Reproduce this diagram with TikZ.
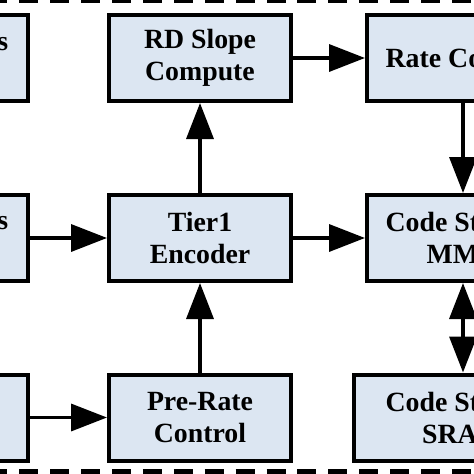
\documentclass[tikz,border=0pt]{standalone}
\usepackage{fontspec}
\setmainfont{Liberation Serif}
\usetikzlibrary{arrows.meta}
\definecolor{boxfill}{RGB}{220,230,242}
\begin{document}
\begin{tikzpicture}[x=1pt,y=-1pt,
  txt/.style={font=\fontsize{27.8}{32}\selectfont\bfseries},
  blk/.style={draw=black, line width=4pt, fill=boxfill, minimum height=86pt,
    inner sep=0pt, align=center, txt},
  arr/.style={line width=3.5pt, -{Triangle[length=36pt,width=27pt]}},
  darr/.style={line width=3.5pt,
    {Triangle[length=36pt,width=27pt]}-{Triangle[length=36pt,width=27pt]}},
  border/.style={line width=6pt, dash pattern=on 19pt off 11.9pt}]
\useasboundingbox (0,0) rectangle (474,474);
\clip (0,0) rectangle (474,474);
% left column (mostly outside the view)
\node[blk, minimum width=182pt] (lt) at (-63,58) {};
\node[blk, minimum width=182pt] (lm) at (-63,238) {};
\node[blk, minimum width=182pt] (lb) at (-63,417.5) {};
\node[txt, anchor=base east, inner sep=0pt] (ltx) at (8.5,50) {s};
\node[txt, anchor=base east, inner sep=0pt] (lmx) at (8.5,229) {s};
% middle column
\node[blk, minimum width=182pt] (rd) at (200,58) {RD Slope\\Compute};
\node[blk, minimum width=182pt] (t1) at (200,238) {Tier1\\Encoder};
\node[blk, minimum width=182pt] (pr) at (200,417.5) {Pre-Rate\\Control};
% right column
\node[blk, minimum width=192pt] (rc) at (463,58) {Rate Control};
\node[blk, minimum width=192pt] (mmu) at (463,238) {Code Stream\\MMU};
\node[blk, minimum width=218pt] (sram) at (463,417.5) {Code Stream\\SRAM};
% connectors
\draw[arr] (rd) -- (rc);
\draw[arr] (t1) -- (rd);
\draw[arr] (pr) -- (t1);
\draw[arr] (lm) -- (t1);
\draw[arr] (t1) -- (mmu);
\draw[arr] (lb) -- (pr);
\draw[arr] (rc) -- (mmu);
\draw[darr] (mmu) -- (sram);
% dashed frame
\coordinate (tl) at (-11.6,0);
\coordinate (tr) at (490,0);
\coordinate (bl) at (-11.6,472);
\coordinate (br) at (490,472);
\draw[border] (tl) -- (tr);
\draw[border] (bl) -- (br);
\end{tikzpicture}
\end{document}
